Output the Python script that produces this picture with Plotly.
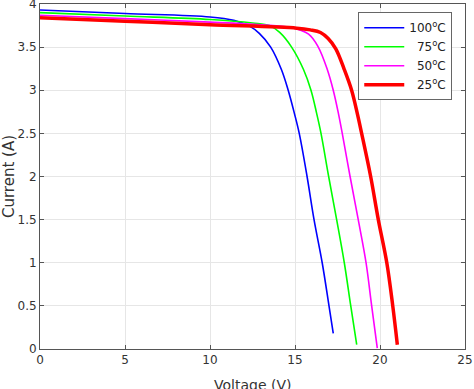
import plotly.graph_objects as go

# Data
v_100 = [0, 5, 10, 11.4, 12.35, 12.9, 13.57, 14.2, 14.6, 14.96, 15.25, 15.71, 16.12, 16.6, 17.0, 17.25]
i_100 = [3.93, 3.89, 3.85, 3.81, 3.74, 3.66, 3.50, 3.24, 3.00, 2.735, 2.50, 2.00, 1.50, 1.00, 0.50, 0.18]

v_75 = [0, 5, 10, 12.5, 13.5, 14.1, 14.8, 15.5, 15.94, 16.27, 16.53, 16.98, 17.45, 17.9, 18.28, 18.63]
i_75 = [3.90, 3.86, 3.82, 3.78, 3.75, 3.67, 3.50, 3.24, 3.00, 2.735, 2.50, 2.00, 1.50, 1.00, 0.50, 0.05]

v_50 = [0, 5, 10, 13, 14.7, 15.8, 16.37, 16.9, 17.25, 17.55, 17.78, 18.24, 18.72, 19.18, 19.51, 19.84]
i_50 = [3.87, 3.83, 3.79, 3.76, 3.73, 3.65, 3.50, 3.24, 3.00, 2.735, 2.50, 2.00, 1.50, 1.00, 0.50, 0.01]

v_25 = [0, 5, 10, 15.1, 15.9, 16.5, 16.95, 17.4, 17.9, 18.33, 18.66, 18.92, 19.45, 19.9, 20.4, 20.75, 21.02]
i_25 = [3.84, 3.80, 3.76, 3.72, 3.70, 3.67, 3.60, 3.48, 3.24, 3.00, 2.735, 2.50, 2.00, 1.50, 1.00, 0.50, 0.05]

names = ["100<sup>o</sup>C", "\u200775<sup>o</sup>C", "\u200750<sup>o</sup>C", "\u200725<sup>o</sup>C"]
colors = ["#0000ff", "#00ff00", "#ff00ff", "#ff0000"]
widths = [1.6, 1.6, 1.6, 3.5]

x_ticks = [0, 5, 10, 15, 20, 25]
y_ticks = [0, 0.5, 1, 1.5, 2, 2.5, 3, 3.5, 4]

fig = go.Figure()
for v, i, n, c, w in zip([v_100, v_75, v_50, v_25], [i_100, i_75, i_50, i_25], names, colors, widths):
    fig.add_trace(go.Scatter(x=v, y=i, mode="lines", name=n,
                             line=dict(color=c, width=w, shape="spline", smoothing=1.0)))

axis_common = dict(showline=True, linecolor="#555555", linewidth=1, mirror="ticks",
                   ticks="inside", ticklen=4, tickcolor="#555555",
                   showgrid=True, gridcolor="#e6e6e6", gridwidth=1, zeroline=False,
                   ticklabeloverflow="allow",
                   tickfont=dict(family="DejaVu Sans", size=12, color="#333333"))

fig.update_layout(
    width=474, height=389,
    margin=dict(l=40, r=9, t=4, b=40, pad=0),
    paper_bgcolor="white", plot_bgcolor="white",
    font=dict(family="DejaVu Sans", size=12, color="#333333"),
    xaxis=dict(range=[0, 25], tickvals=x_ticks, automargin=False, **axis_common),
    yaxis=dict(range=[0, 4], tickvals=y_ticks, ticktext=[f"{t:g}" for t in y_ticks],
               title=dict(text="Current (A)", font=dict(size=15, color="#333333"), standoff=4),
               automargin=False, **axis_common),
    legend=dict(x=0.97, y=0.976, xanchor="right", yanchor="top",
                bgcolor="white", bordercolor="#666666", borderwidth=1,
                font=dict(family="DejaVu Sans", size=12, color="#222222"),
                itemwidth=40, tracegroupgap=0),
    showlegend=True,
    annotations=[dict(text="Voltage (V)", xref="paper", yref="paper", x=0.5, y=0,
                      xanchor="center", yanchor="top", yshift=-26, showarrow=False,
                      font=dict(family="DejaVu Sans", size=14, color="#333333"))],
)

fig.write_html("out.html", config={"displayModeBar": False},
               post_script="document.body.style.margin='0';")
